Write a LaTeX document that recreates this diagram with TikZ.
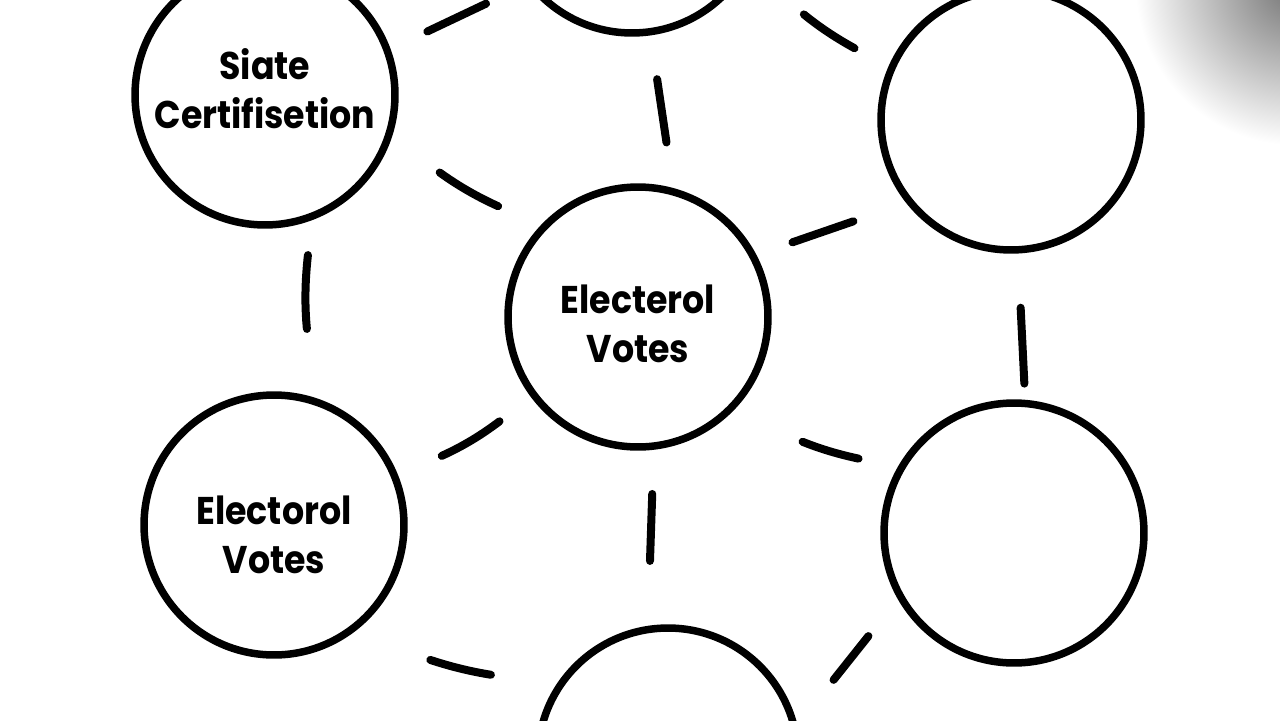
\documentclass[tikz,border=0pt]{standalone}
\usepackage{fontspec}
\setmainfont{Poppins}[FakeStretch=0.9]

\begin{document}
\begin{tikzpicture}[x=0.02cm,y=-0.02cm,
		stage/.style={draw,circle,line width=0.15cm,minimum size=5.2cm,inner sep=0pt,outer sep=0pt},
		every label/.style={align=center,font=\fontsize{22}{28}\selectfont\bfseries},
		link/.style={line width=0.16cm,line cap=round}]
		\useasboundingbox (0,0) rectangle (1280,720);
		\clip (0,0) rectangle (1280,720);% page frame, the outer circles run off it
		\fill[white] (0,0) rectangle (1280,720);
		\shade[inner color=black!55,outer color=white] (1295,-15) circle[radius=3.2cm];% smudge top right

		\node[stage,label={[yshift=0.12cm]center:Siate\\Certifisetion}] (Cert) at (265,95) {};
		\node[stage] (TopMid)    at (632,-97)  {};
		\node[stage] (TopRight)  at (1011,120) {};
		\node[stage,label={[yshift=-0.14cm]center:Electerol\\Votes}] (Centre) at (638,317) {};
		\node[stage,label={[yshift=-0.2cm]center:Electorol\\Votes}] (Left) at (274,525) {};
		\node[stage] (LowRight)  at (1014,533) {};
		\node[stage] (BottomMid) at (668,758)  {};

		% one short stroke on each link: gap \s, stroke length \l (cm), bend \b
		\foreach \from/\to/\s/\l/\b in {Cert.20/TopMid.-142/0.89/1.30/0,
			TopMid.-26/TopRight.156/1.55/1.22/-12, TopMid.-82/Centre.74/0.96/1.28/0,
			Cert.-16/Centre.135/1.30/1.35/-12, Centre.28/TopRight.-141/0.84/1.29/0,
			Cert.-68/Left.69/0.80/1.48/-12, TopRight.-87/LowRight.85/1.16/1.52/0,
			Centre.-144/Left.23/0.87/1.35/12, Centre.-43/LowRight.149/1.57/1.17/-12,
			Centre.-83/BottomMid.99/0.96/1.34/0, Left.-52/BottomMid.144/1.66/1.25/-12,
			BottomMid.13/LowRight.-151/1.25/1.12/0}{%
			\pgfmathsetmacro\ph{60+\l-\s}
			\draw[link,dash pattern=on \l cm off 60cm,dash phase=\ph cm] (\from) to[bend left=\b] (\to);
		}
	\end{tikzpicture}
\end{document}
